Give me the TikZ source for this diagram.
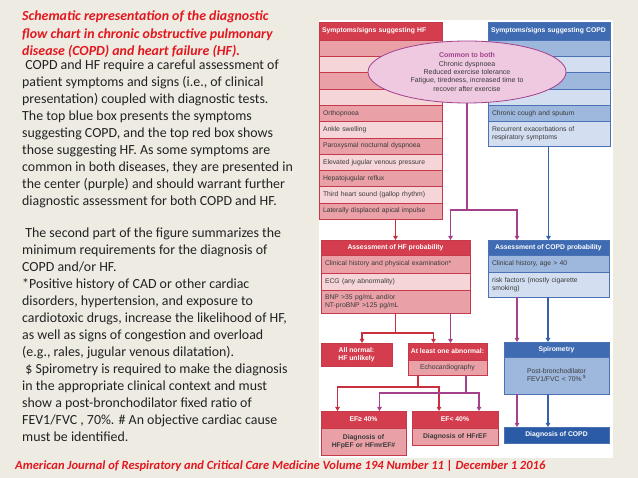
\documentclass[tikz,border=0pt]{standalone}
\usepackage{fontspec}
\usepackage{xcolor}
\setmainfont{Carlito}
\newfontfamily\chartfont{Liberation Sans}
\usetikzlibrary{arrows.meta,positioning,shapes.geometric}

\definecolor{bgbeige}{HTML}{EEEBE3}
\definecolor{titlered}{HTML}{E3171E}
\definecolor{bodygray}{HTML}{222222}
\definecolor{txtgray}{HTML}{3A3A3A}
\definecolor{hfdark}{HTML}{D43D4E}
\definecolor{hfmid}{HTML}{E9A0A7}
\definecolor{hflight}{HTML}{F6D5D8}
\definecolor{hfline}{HTML}{C43A4A}
\definecolor{copddark}{HTML}{3F6BB3}
\definecolor{copdmid}{HTML}{9DB7DD}
\definecolor{copdlight}{HTML}{D3DFF1}
\definecolor{copdline}{HTML}{4A72B5}
\definecolor{copdnavy}{HTML}{2B5AA6}
\definecolor{purp}{HTML}{A3418D}
\definecolor{ellfill}{HTML}{EEC9E0}
\definecolor{redarr}{HTML}{C9303F}
\definecolor{bluearr}{HTML}{3462AB}

\newcommand\headfont{\chartfont\bfseries\fontsize{6.8}{8}\selectfont}
\newcommand\rowfont{\chartfont\fontsize{6.8}{8}\selectfont}
\newcommand\bodyfont{\fontsize{13.9}{17.05}\selectfont}

\begin{document}
\begin{tikzpicture}[
x=1pt, y=-1pt,
node distance=0pt,
hfhead/.style={draw=hfline, fill=hfdark, text=white, font=\headfont, minimum height=18pt, inner xsep=3pt, inner ysep=1pt, outer sep=0pt, align=left},
hfrow/.style={draw=hfline, fill=hfmid, text=txtgray, font=\rowfont, text width=115pt, minimum height=16.3pt, inner xsep=4pt, inner ysep=1pt, outer sep=0pt, align=left},
hfrowl/.style={hfrow, fill=hflight},
copdhead/.style={hfhead, draw=copdline, fill=copddark},
copdrow/.style={hfrow, draw=copdline, fill=copdmid, text width=114pt},
copdrowl/.style={copdrow, fill=copdlight},
hfbox/.style={draw=hfline, fill=hfdark, text=white, font=\headfont, align=center, inner sep=1pt, outer sep=0pt},
copdbox/.style={hfbox, draw=copdline, fill=copddark},
common/.style={ellipse, draw=purp, fill=ellfill, thick, minimum width=198pt, minimum height=62pt, inner sep=0pt, align=center, text=txtgray, font=\chartfont\fontsize{7}{8.3}\selectfont},
redarrow/.style={-{Triangle[length=4pt, width=4.5pt]}, draw=redarr, line width=1.1pt},
purparrow/.style={redarrow, draw=purp},
bluearrow/.style={redarrow, draw=bluearr},
redline/.style={draw=redarr, line width=1.1pt},
purpline/.style={draw=purp, line width=1.1pt},
blueline/.style={draw=bluearr, line width=1.1pt}
]
\useasboundingbox (0,0) rectangle (638,478);
\fill[bgbeige] (0,0) rectangle (638,478);
\fill[white] (319,20) rectangle (613,458);

% left column text
\node[anchor=north west, inner sep=0pt, align=left, text=titlered, font=\bodyfont\bfseries\itshape] (title) at (22,11)
{Schematic representation of the diagnostic\\flow chart in chronic obstructive pulmonary\\disease (COPD) and heart failure (HF).};
\node[anchor=north west, inner sep=0pt, align=left, text=bodygray, font=\bodyfont] (intro) at ([yshift=-2pt]title.south west)
{\ COPD and HF require a careful assessment of\\patient symptoms and signs (i.e., of clinical\\presentation) coupled with diagnostic tests.\\The top blue box presents the symptoms\\suggesting COPD, and the top red box shows\\those suggesting HF. As some symptoms are\\common in both diseases, they are presented in\\the center (purple) and should warrant further\\diagnostic assessment for both COPD and HF.};
\node[anchor=north west, inner sep=0pt, align=left, text=bodygray, font=\bodyfont] (notes) at ([yshift=-19pt]intro.south west)
{\ The second part of the figure summarizes the\\minimum requirements for the diagnosis of\\COPD and/or HF.\\*Positive history of CAD or other cardiac\\disorders, hypertension, and exposure to\\cardiotoxic drugs, increase the likelihood of HF,\\as well as signs of congestion and overload\\(e.g., rales, jugular venous dilatation).\\\ \$ Spirometry is required to make the diagnosis\\in the appropriate clinical context and must\\show a post-bronchodilator fixed ratio of\\FEV1/FVC , 70\%. \# An objective cardiac cause\\must be identified.};
\node[anchor=west, inner sep=0pt, text=titlered, font=\fontsize{12.5}{14}\selectfont\bfseries\itshape] (source) at (15,466)
{American Journal of Respiratory and Critical Care Medicine Volume 194 Number 11 | December 1 2016};

% symptoms
\node[hfhead, text width=117pt] (hfsym) at (380.5,31) {Symptoms/signs suggesting HF};
\node[hfrow, below=of hfsym] (hf1) {};
\node[hfrowl, below=of hf1] (hf2) {};
\node[hfrow, below=of hf2] (hf3) {};
\node[hfrowl, below=of hf3] (hf4) {};
\node[hfrow, below=of hf4] (hf5) {Orthopnoea};
\node[hfrowl, below=of hf5] (hf6) {Ankle swelling};
\node[hfrow, below=of hf6] (hf7) {Paroxysmal nocturnal dyspnoea};
\node[hfrowl, below=of hf7] (hf8) {Elevated jugular venous pressure};
\node[hfrow, below=of hf8] (hf9) {Hepatojugular reflux};
\node[hfrowl, below=of hf9] (hf10) {Third heart sound (gallop rhythm)};
\node[hfrow, below=of hf10] (hf11) {Laterally displaced apical impulse};

\node[copdhead, text width=116pt] (copdsym) at (549,31) {Symptoms/signs suggesting COPD};
\node[copdrow, below=of copdsym] (copd1) {};
\node[copdrowl, below=of copd1] (copd2) {};
\node[copdrow, below=of copd2] (copd3) {};
\node[copdrowl, below=of copd3] (copd4) {};
\node[copdrow, below=of copd4] (copd5) {Chronic cough and sputum};
\node[copdrowl, below=of copd5, minimum height=25pt] (copd6) {Recurrent exacerbations of\\respiratory symptoms};

\node[common] (both) at (467,72) {{\color{purp}\bfseries Common to both}\\Chronic dyspnoea\\Reduced exercise tolerance\\Fatigue, tiredness, increased time to\\recover after exercise};

% assessment
\node[hfbox, minimum width=149pt, minimum height=15pt] (hfprob) at (395.5,247.5) {Assessment of HF probability};
\node[hfrow, below=of hfprob, text width=141pt, minimum height=18pt] (hfa1) {Clinical history and physical examination*};
\node[hfrowl, below=of hfa1, text width=141pt, minimum height=17pt] (hfa2) {ECG (any abnormality)};
\node[hfrow, below=of hfa2, text width=141pt, minimum height=23pt] (hfa3) {BNP >35 pg/mL and/or\\NT-proBNP >125 pg/mL};

\node[copdbox, minimum width=121pt, minimum height=15pt] (copdprob) at (548.5,247.5) {Assessment of COPD probability};
\node[copdrow, below=of copdprob, text width=113pt, minimum height=17pt] (copda1) {Clinical history, age > 40};
\node[copdrowl, below=of copda1, text width=113pt, minimum height=25pt] (copda2) {risk factors (mostly cigarette\\smoking)};

% tests
\node[hfbox, minimum width=71pt, minimum height=23pt] (normal) at (356.5,354.5) {All normal:\\HF unlikely};
\node[hfbox, minimum width=79pt, minimum height=17pt] (abnormal) at (447.5,351.5) {At least one abnormal:};
\node[hfrow, below=of abnormal, text width=71pt, minimum height=15pt, align=center] (echo) {Echocardiography};

\node[copdbox, minimum width=105pt, minimum height=15pt] (spiro) at (556.5,349.5) {Spirometry};
\node[copdrow, below=of spiro, text width=97pt, minimum height=37pt, align=center] (fev) {Post-bronchodilator\\FEV1/FVC < 70\%\,\textsuperscript{\$}\\[8pt]};

% diagnoses
\node[hfbox, minimum width=85pt, minimum height=17pt] (efhigh) at (363.5,419.5) {EF≥ 40\%};
\node[hfrow, below=of efhigh, text width=77pt, minimum height=27pt, align=center, font=\headfont] (hfpef) {Diagnosis of\\HFpEF or HFmrEF\#};
\node[hfbox, minimum width=86pt, minimum height=17pt] (eflow) at (455,419.5) {EF< 40\%};
\node[hfrow, below=of eflow, text width=78pt, minimum height=17pt, align=center, font=\headfont] (hfref) {Diagnosis of HFrEF};
\node[copdbox, fill=copdnavy, minimum width=105pt, minimum height=16pt] (copddx) at (556.5,435) {Diagnosis of COPD};

% connectors
\coordinate (split) at (467,210);
\coordinate (hfsplit) at (395.5,333);
\coordinate (echored) at (418,387);
\coordinate (echopurp) at (466,393);

\draw[redarrow] (hf11.south -| hfprob.north) -- (hfprob.north);
\draw[purpline] (both.south) -- (split);
\draw[purparrow] (split) -| ([xshift=55pt]hfprob.north);
\draw[purparrow] (split) -| ([xshift=-31.5pt]copdprob.north);
\draw[bluearrow] (copd6.south -| copdprob.north) -- (copdprob.north);

\draw[redline] (hfa3.south) -- (hfsplit);
\draw[redarrow] (hfsplit) -| ([xshift=5.5pt]normal.north);
\draw[redarrow] (hfsplit) -| ([xshift=-14pt]abnormal.north);
\draw[purparrow] ([xshift=3pt]abnormal.north |- hfa3.south) -- ([xshift=3pt]abnormal.north);
\draw[purparrow] ([xshift=-39.5pt]spiro.north |- copda2.south) -- ([xshift=-39.5pt]spiro.north);
\draw[bluearrow] ([xshift=-8.5pt]spiro.north |- copda2.south) -- ([xshift=-8.5pt]spiro.north);

\draw[redline] (echo.south -| echored) -- (echored);
\draw[redarrow] (echored) -| ([xshift=-26pt]efhigh.north);
\draw[redarrow] (echored) -| ([xshift=-16pt]eflow.north);
\draw[purpline] (echo.south -| echopurp) -- (echopurp);
\draw[purparrow] (echopurp) -| ([xshift=16pt]efhigh.north);
\draw[purparrow] (echopurp) -| ([xshift=24pt]eflow.north);
\draw[purparrow] ([xshift=-39.5pt]copddx.north |- fev.south) -- ([xshift=-39.5pt]copddx.north);
\draw[bluearrow] ([xshift=-8.5pt]copddx.north |- fev.south) -- ([xshift=-8.5pt]copddx.north);
\end{tikzpicture}
\end{document}
